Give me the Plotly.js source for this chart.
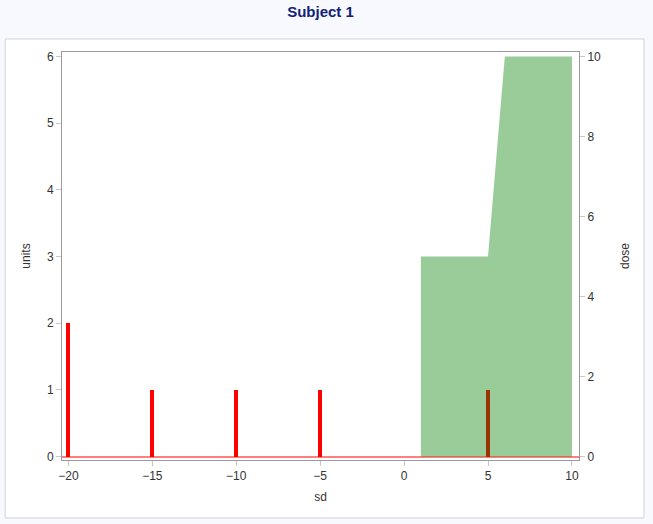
<!DOCTYPE html>
<html>
<head>
<meta charset="utf-8">
<script src="https://cdn.plot.ly/plotly-3.0.1.min.js"></script>
<style>html,body{margin:0;padding:0;background:#F8F9FE;}#chart{width:653px;height:524px;}</style>
</head>
<body>
<div id="chart"></div>
<script>
// Needle data (units)
var sdNeedle = [-20, -15, -10, -5, 5];
var unitsNeedle = [2, 1, 1, 1, 1];
// Dose area data
var sdDose = [1, 5, 6, 10];
var doseValues = [5, 5, 10, 10];
var xTicks = [-20, -15, -10, -5, 0, 5, 10];
var yTicks = [0, 1, 2, 3, 4, 5, 6];
var y2Ticks = [0, 2, 4, 6, 8, 10];

var font = 'Arial, "Liberation Sans", sans-serif';

var needles = {
  type: 'bar', x: sdNeedle, y: unitsNeedle, width: 0.24,
  marker: {color: '#FF0000', line: {width: 0}},
  xaxis: 'x', yaxis: 'y', hoverinfo: 'x+y', showlegend: false
};
var area = {
  type: 'scatter', mode: 'lines', x: sdDose, y: doseValues,
  fill: 'tozeroy', fillcolor: 'rgba(0,128,0,0.4)',
  line: {width: 0, color: 'rgba(0,128,0,0)'},
  xaxis: 'x', yaxis: 'y2', showlegend: false
};

var axisCommon = {
  showgrid: false, showline: true, linecolor: '#9a9a9a', linewidth: 1,
  ticks: 'outside', ticklen: 5, tickcolor: '#c8c8c8', tickwidth: 1,
  tickfont: {family: font, size: 12, color: '#333333'},
  zeroline: false
};

var layout = {
  width: 653, height: 524,
  paper_bgcolor: '#F8F9FE', plot_bgcolor: '#FFFFFF',
  margin: {l: 62, r: 74, t: 52, b: 64},
  title: {text: '<b>Subject 1</b>', font: {family: font, size: 15, color: '#112277'},
          x: 0.5, xref: 'paper', y: 0.978, yref: 'container', yanchor: 'middle'},
  xaxis: Object.assign({}, axisCommon, {
    range: [-20.38, 10.42], tickvals: xTicks, mirror: true,
    title: {text: 'sd', font: {family: font, size: 12, color: '#333333'}, standoff: 10}
  }),
  yaxis: Object.assign({}, axisCommon, {
    range: [-0.05, 6.066], tickvals: yTicks, mirror: false,
    zeroline: true, zerolinecolor: 'rgba(255,0,0,0.5)', zerolinewidth: 2,
    title: {text: 'units', font: {family: font, size: 12, color: '#333333'}, standoff: 13}
  }),
  yaxis2: Object.assign({}, axisCommon, {
    range: [-0.083, 10.11], tickvals: y2Ticks, overlaying: 'y', side: 'right',
    title: {text: 'dose', font: {family: font, size: 12, color: '#333333'}, standoff: 20}
  }),
  bargap: 0,
  shapes: [{
    type: 'rect', xref: 'paper', yref: 'paper', layer: 'below',
    x0: -0.110, x1: 1.1257, y0: -0.142, y1: 1.0319,
    fillcolor: '#FFFFFF', line: {color: '#D0D3DA', width: 1}
  }],
  showlegend: false
};

Plotly.newPlot('chart', [needles, area], layout, {staticPlot: true, displayModeBar: false});
</script>
</body>
</html>
